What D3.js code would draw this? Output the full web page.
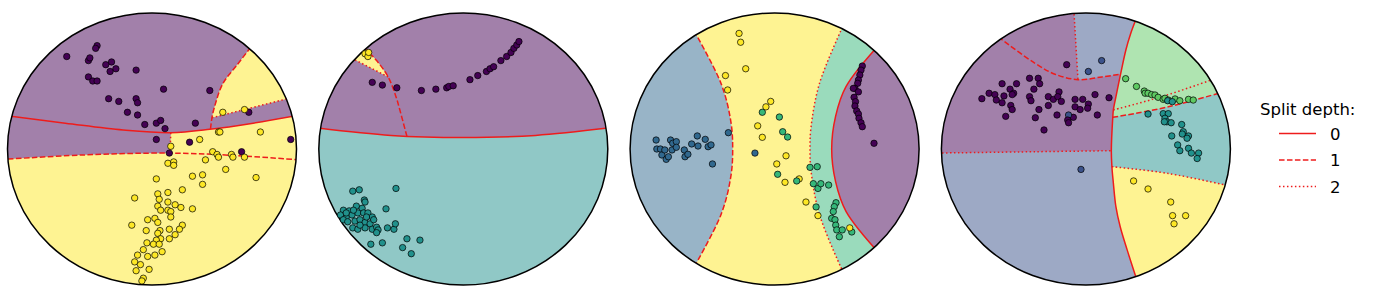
<!DOCTYPE html>
<html>
<head>
<meta charset="utf-8">
<script src="https://cdn.jsdelivr.net/npm/d3@7"></script>
<style>
  body { margin: 0; background: #fff; }
  svg { display: block; }
</style>
</head>
<body>
<div id="chart"></div>
<script>
// points are [x, y, class] in Poincare disk coordinates

var p1Points = [
  [-0.59,0.68,0],[-0.38,0.76,0],[-0.39,0.74,0],[-0.44,0.65,0],[-0.43,0.67,0],[-0.32,0.62,0],[-0.28,0.64,0],
  [-0.25,0.59,0],[-0.29,0.57,0],[-0.11,0.58,0],[-0.44,0.53,0],[-0.41,0.50,0],[-0.38,0.50,0],[0.08,0.44,0],
  [0.40,0.43,0],[-0.30,0.37,0],[-0.23,0.35,0],[-0.11,0.37,0],[-0.10,0.34,0],[-0.17,0.27,0],[-0.10,0.25,0],
  [-0.05,0.18,0],[0.03,0.19,0],[0.06,0.21,0],[0.09,0.15,0],[0.30,0.19,0],[0.67,0.27,0],[0.03,0.07,0],
  [0.26,0.05,0],[0.96,0.07,0],[0.62,-0.02,0],
  [0.49,0.27,1],[0.64,0.29,1],[0.46,0.125,1],[0.47,0.125,1],[0.75,0.125,1],[0.33,0.07,1],[0.13,0.02,1],
  [0.42,-0.02,1],[0.45,-0.04,1],[0.46,-0.06,1],[0.55,-0.04,1],[0.56,-0.06,1],[0.64,-0.06,1],[0.37,-0.08,1],
  [0.11,-0.105,1],[0.15,-0.095,1],[0.15,-0.12,1],[0.51,-0.15,1],[0.72,-0.21,1],[0.28,-0.20,1],[0.35,-0.19,1],
  [0.35,-0.26,1],[0.03,-0.22,1],[0.21,-0.30,1],[0.04,-0.33,1],[0.11,-0.32,1],[-0.12,-0.36,1],[0.05,-0.37,1],
  [0.11,-0.39,1],[0.16,-0.41,1],[0.20,-0.43,1],[0.28,-0.44,1],[0.04,-0.42,1],[0.11,-0.45,1],[0.06,-0.45,1],
  [0.13,-0.46,1],[0.13,-0.50,1],[-0.03,-0.52,1],[0.02,-0.51,1],[0.04,-0.54,1],[-0.14,-0.56,1],[0.21,-0.56,1],
  [0.19,-0.59,1],[0.12,-0.59,1],[0.055,-0.60,1],[-0.04,-0.60,1],[0.04,-0.62,1],[0.16,-0.63,1],[0.12,-0.66,1],
  [0.06,-0.66,1],[0.03,-0.67,1],[-0.035,-0.69,1],[0.01,-0.70,1],[0.05,-0.70,1],[-0.06,-0.74,1],[0.07,-0.755,1],
  [-0.10,-0.78,1],[0.02,-0.78,1],[-0.03,-0.79,1],[-0.12,-0.83,1],[-0.08,-0.85,1],[-0.02,-0.885,1],
  [-0.11,-0.895,1],[-0.06,-0.95,1],[-0.07,-0.97,1],
  [0.12,-0.03,0]
];

var p2Points = [
  [-0.63,0.49,0],[-0.56,0.47,0],[-0.46,0.45,0],[-0.29,0.43,0],[-0.19,0.44,0],[-0.115,0.45,0],[-0.10,0.46,0],
  [-0.07,0.465,0],[0.046,0.51,0],[0.10,0.54,0],[0.16,0.57,0],[0.185,0.59,0],[0.21,0.605,0],[0.26,0.65,0],
  [0.30,0.68,0],[0.33,0.71,0],[0.35,0.74,0],[0.37,0.765,0],[0.385,0.79,0],
  [-0.68,0.70,2],[-0.66,0.68,2],[-0.655,0.71,2],
  [-0.765,-0.31,1],[-0.72,-0.30,1],[-0.466,-0.29,1],[-0.685,-0.375,1],[-0.68,-0.39,1],[-0.535,-0.44,1],
  [-0.83,-0.45,1],[-0.79,-0.455,1],[-0.74,-0.42,1],[-0.70,-0.436,1],[-0.85,-0.485,1],[-0.81,-0.50,1],
  [-0.77,-0.485,1],[-0.73,-0.47,1],[-0.69,-0.47,1],[-0.66,-0.47,1],[-0.63,-0.50,1],[-0.83,-0.52,1],
  [-0.80,-0.535,1],[-0.75,-0.53,1],[-0.715,-0.52,1],[-0.68,-0.54,1],[-0.645,-0.55,1],[-0.765,-0.58,1],
  [-0.73,-0.59,1],[-0.68,-0.58,1],[-0.63,-0.59,1],[-0.60,-0.575,1],[-0.59,-0.595,1],[-0.60,-0.615,1],
  [-0.525,-0.58,1],[-0.48,-0.59,1],[-0.47,-0.55,1],[-0.64,-0.70,1],[-0.56,-0.69,1],[-0.39,-0.66,1],
  [-0.30,-0.67,1],[-0.42,-0.725,1],[-0.36,-0.77,1],[-0.81,-0.47,1],[-0.76,-0.45,1],[-0.67,-0.50,1],
  [-0.715,-0.56,1],[-0.62,-0.52,1]
];

var p3Points = [
  [-0.82,0.066,1],[-0.815,0,1],[-0.79,0,1],[-0.78,-0.044,1],[-0.75,-0.076,1],[-0.735,-0.057,1],[-0.72,0.066,1],
  [-0.705,0.042,1],[-0.71,-0.007,1],[-0.68,0.054,1],[-0.68,0.0125,1],[-0.76,-0.007,1],[-0.625,-0.007,1],
  [-0.62,-0.057,1],[-0.60,-0.039,1],[-0.574,0.037,1],[-0.535,0.096,1],[-0.53,0.022,1],[-0.48,0.071,1],
  [-0.46,0.017,1],[-0.44,0.03,1],[-0.43,-0.11,1],[-0.32,0.12,1],[-0.136,-0.03,1],
  [-0.246,0.85,3],[-0.235,0.785,3],[-0.20,0.59,3],[-0.34,0.54,3],[-0.325,0.434,3],[-0.027,0.35,3],
  [-0.06,0.31,3],[-0.117,0.17,3],[-0.085,0.086,3],[0.079,-0.05,3],[0.015,-0.11,3],[0.072,-0.245,3],
  [0.17,-0.22,3],[0.217,-0.39,3],[0.30,-0.49,3],
  [-0.085,0.27,2],[0.033,0.235,2],[0.056,0.127,2],[0.09,0.088,2],[0.021,-0.186,2],[0.153,-0.235,2],
  [0.245,-0.135,2],[0.295,-0.13,2],[0.268,-0.255,2],[0.30,-0.29,2],[0.32,-0.255,2],[0.374,-0.265,2],
  [0.287,-0.426,2],[0.425,-0.395,2],[0.413,-0.424,2],[0.406,-0.46,2],[0.395,-0.51,2],[0.418,-0.52,2],
  [0.423,-0.56,2],[0.43,-0.595,2],[0.468,-0.595,2],[0.534,-0.61,2],[0.448,-0.645,2],
  [0.52,-0.58,3],
  [0.607,0.61,0],[0.598,0.58,0],[0.59,0.544,0],[0.58,0.507,0],[0.575,0.483,0],[0.556,0.446,0],[0.545,0.446,0],
  [0.58,0.42,0],[0.55,0.38,0],[0.56,0.348,0],[0.556,0.316,0],[0.568,0.28,0],[0.58,0.257,0],[0.584,0.226,0],
  [0.598,0.193,0],[0.607,0.164,0],[0.688,0.042,0]
];

var p4Points = [
  [-0.72,0.37,0],[-0.67,0.41,0],[-0.63,0.40,0],[-0.62,0.36,0],[-0.58,0.48,0],[-0.567,0.39,0],[-0.58,0.34,0],
  [-0.525,0.44,0],[-0.50,0.41,0],[-0.48,0.48,0],[-0.51,0.40,0],[-0.52,0.32,0],[-0.51,0.29,0],[-0.555,0.24,0],
  [-0.39,0.52,0],[-0.33,0.52,0],[-0.32,0.48,0],[-0.36,0.44,0],[-0.39,0.385,0],[-0.38,0.355,0],[-0.325,0.29,0],
  [-0.35,0.23,0],[-0.29,0.14,0],[-0.26,0.385,0],[-0.26,0.32,0],[-0.225,0.365,0],[-0.186,0.42,0],
  [-0.195,0.385,0],[-0.17,0.35,0],[-0.20,0.25,0],[-0.133,0.62,0],[-0.075,0.365,0],[-0.075,0.31,0],
  [-0.04,0.29,0],[-0.022,0.365,0],[0.017,0.33,0],[0.012,0.30,0],[0.063,0.40,0],[0.079,0.25,0],[0.16,0.377,0],
  [-0.087,0.233,0],
  [0.109,0.65,1],[0.017,0.57,1],[-0.12,0.25,1],[-0.034,-0.15,1],
  [-0.126,0.213,0],[-0.12,0.193,0],
  [0.275,0.517,3],[0.35,0.46,3],[0.404,0.426,3],[0.41,0.41,3],[0.43,0.41,3],[0.455,0.40,3],[0.478,0.397,3],
  [0.50,0.38,3],[0.535,0.365,3],[0.547,0.373,3],[0.57,0.36,3],[0.617,0.368,3],[0.65,0.355,3],[0.71,0.365,3],
  [0.743,0.36,3],
  [0.43,0.257,2],[0.535,0.26,2],[0.57,0.26,2],[0.547,0.226,2],[0.56,0.20,2],[0.59,0.193,2],[0.543,0.20,2],
  [0.566,0.355,2],[0.598,0.348,2],[0.663,0.18,2],[0.674,0.127,2],[0.667,0.11,2],[0.71,0.096,2],[0.70,0.079,2],
  [0.594,0.096,2],[0.635,0.03,2],[0.65,-0.0125,2],[0.71,0.005,2],[0.73,-0.03,2],[0.78,-0.03,2],[0.77,-0.07,2],
  [0.33,-0.235,4],[0.43,-0.294,4],[0.587,-0.39,4],[0.60,-0.49,4],[0.69,-0.49,4],[0.61,-0.55,4]
];

// split lines: depth 0 solid, 1 dashed, 2 dotted
var p1Splits = [
  { depth: 0, pts: [[-1.05,0.25],[-0.6,0.19],[-0.2,0.14],[0.13,0.12],[0.4,0.145],[0.7,0.19],[1.05,0.255]] },
  { depth: 1, pts: [[-1.05,-0.078],[-0.5,-0.045],[0.125,-0.03],[0.56,-0.047],[1.05,-0.082]] },
  { depth: 1, pts: [[0.405,0.148],[0.415,0.23],[0.43,0.30],[0.49,0.48],[0.59,0.62],[0.67,0.73],[0.72,0.80]] },
  { depth: 2, pts: [[0.13,0.12],[0.125,-0.03]] },
  { depth: 2, pts: [[0.415,0.23],[1.05,0.40]] }
];
var p2Splits = [
  { depth: 0, pts: [[-1.05,0.16],[-0.5,0.10],[0,0.085],[0.5,0.10],[1.05,0.16]] },
  { depth: 1, pts: [[-0.39,0.092],[-0.44,0.29],[-0.466,0.385],[-0.52,0.53],[-0.60,0.65],[-0.70,0.76],[-0.76,0.84]] },
  { depth: 2, pts: [[-0.52,0.53],[-0.85,0.71]] }
];
var p3Splits = [
  { depth: 0, pts: [[0.744,0.79],[0.495,0.46],[0.422,0.24],[0.395,0],[0.422,-0.24],[0.495,-0.46],[0.744,-0.79]] },
  { depth: 1, pts: [[-0.585,0.92],[-0.37,0.48],[-0.3025,0.2],[-0.29,0],[-0.3025,-0.2],[-0.37,-0.48],[-0.585,-0.92]] },
  { depth: 2, pts: [[0.48,0.92],[0.31,0.48],[0.251,0.15],[0.245,0],[0.251,-0.15],[0.31,-0.48],[0.48,-0.92]] }
];
var p4Solid = [[0.364,1.0],[0.31,0.85],[0.277,0.73],[0.24,0.55],[0.203,0.36],[0.19,0.287],[0.186,0.233],
  [0.176,-0.0125],[0.18,-0.13],[0.19,-0.25],[0.207,-0.42],[0.237,-0.57],[0.285,-0.74],[0.364,-1.0]];
var p4Splits = [
  { depth: 0, pts: p4Solid },
  { depth: 1, pts: [[-0.65,0.86],[-0.594,0.814],[-0.352,0.63],[-0.214,0.55],[-0.055,0.51],[0.11,0.53],[0.24,0.55]] },
  { depth: 1, pts: [[0.186,0.233],[0.57,0.31],[1.05,0.45]] },
  { depth: 2, pts: [[-0.085,1.05],[-0.055,0.51]] },
  { depth: 2, pts: [[-1.05,-0.03],[-0.35,-0.02],[0.176,-0.0125]] },
  { depth: 2, pts: [[0.19,0.287],[0.525,0.385],[0.866,0.507],[1.0,0.56]] },
  { depth: 2, pts: [[0.18,-0.13],[0.57,-0.18],[1.05,-0.285]] }
];

// leaf regions, painted in order over the base class
var p1Regions = [
  { cls: 0, pieces: [p1Splits[0].pts, [[1.3,0.3],[1.3,1.3],[-1.3,1.3],[-1.3,0.3]]] },
  { cls: 1, pieces: [p1Splits[2].pts.slice(1), [[0.85,1.3],[1.3,1.3],[1.3,0.47],[1.05,0.40]]] },
  { cls: 0, pieces: [p1Splits[0].pts.slice(0, 4), [[0.125,-0.03]], [[0.125,-0.03],[-0.5,-0.045],[-1.05,-0.078]], [[-1.3,-0.09],[-1.3,0.27]]] }
];
var p2Regions = [
  { cls: 0, pieces: [p2Splits[0].pts, [[1.3,0.2],[1.3,1.3],[-1.3,1.3],[-1.3,0.2]]] },
  { cls: 2, pieces: [p2Splits[1].pts.slice(3), [[-0.9,1.0],[-0.85,0.71]]] }
];
var p3Regions = [
  { cls: 1, pieces: [p3Splits[1].pts, [[-1.3,-1.3],[-1.3,1.3]]] },
  { cls: 2, pieces: [p3Splits[2].pts, [[1.3,-1.3],[1.3,1.3]]] },
  { cls: 0, pieces: [p3Splits[0].pts, [[1.3,-1.3],[1.3,1.3]]] }
];
var p4Regions = [
  { cls: 0, pieces: [[[-1.3,-0.035]], p4Splits[4].pts, p4Solid.slice(0, 8).reverse(), [[0.4,1.3],[-1.3,1.3]]] },
  { cls: 1, pieces: [[[-0.099,1.3],[-0.055,0.51]], p4Splits[1].pts.slice(4), p4Solid.slice(0, 4).reverse(), [[0.4,1.3]]] },
  { cls: 2, pieces: [p4Solid, [[0.4,-1.3],[1.3,-1.3],[1.3,1.3],[0.4,1.3]]] },
  { cls: 3, pieces: [p4Solid.slice(0, 7), p4Splits[2].pts, [[1.3,0.5],[1.3,1.3],[0.4,1.3]]] },
  { cls: 4, pieces: [p4Solid.slice(8), [[0.4,-1.3],[1.3,-1.3],[1.3,-0.3]], p4Splits[6].pts.slice().reverse()] }
];

var depthLabels = ["0", "1", "2"];

var panels = [
  { points: p1Points, k: 2, base: 1, regions: p1Regions, splits: p1Splits },
  { points: p2Points, k: 3, base: 1, regions: p2Regions, splits: p2Splits },
  { points: p3Points, k: 4, base: 3, regions: p3Regions, splits: p3Splits },
  { points: p4Points, k: 5, base: 1, regions: p4Regions, splits: p4Splits }
];

var width = 1376, height = 297;
var cy = 149, rx = 144.5, ry = 136;
var firstCx = 152, stepCx = 311.3;
var dashes = ["none", "5.55,2.4", "1.5,2.475"];
var splitColor = "#ee1c1c";

var svg = d3.select("#chart").append("svg")
  .attr("width", width)
  .attr("height", height)
  .style("font-family", "'DejaVu Sans', sans-serif");

function piecesPath(pieces, x, y) {
  var curve = d3.line().x(function(d){ return x(d[0]); }).y(function(d){ return y(d[1]); })
    .curve(d3.curveCatmullRom);
  var d = "";
  pieces.forEach(function(pts) {
    if (pts.length > 2) {
      var s = curve(pts);
      d += d ? "L" + s.slice(1) : s;
    } else {
      pts.forEach(function(q) { d += (d ? "L" : "M") + x(q[0]) + "," + y(q[1]); });
    }
  });
  return d + "Z";
}

panels.forEach(function(p, i) {
  var cx = firstCx + i * stepCx;
  var x = d3.scaleLinear().domain([-1, 1]).range([cx - rx, cx + rx]);
  var y = d3.scaleLinear().domain([-1, 1]).range([cy + ry, cy - ry]);
  var color = d3.scaleSequential(d3.interpolateViridis).domain([0, p.k - 1]);
  // regions are the class colour at half strength over white
  var fill = function(c){ return d3.interpolateRgb(color(c), "#fff")(0.5); };
  var line = d3.line().x(function(d){ return x(d[0]); }).y(function(d){ return y(d[1]); })
    .curve(d3.curveCatmullRom);

  svg.append("clipPath").attr("id", "disk" + i)
    .append("ellipse")
      .attr("cx", x(0)).attr("cy", y(0))
      .attr("rx", x(1) - x(0)).attr("ry", y(-1) - y(0));

  var g = svg.append("g").attr("clip-path", "url(#disk" + i + ")");

  // base class fills the whole disk
  g.append("ellipse")
    .attr("cx", x(0)).attr("cy", y(0))
    .attr("rx", x(1) - x(0)).attr("ry", y(-1) - y(0))
    .attr("fill", fill(p.base));

  g.selectAll("path.region").data(p.regions).enter().append("path")
    .attr("class", "region")
    .attr("d", function(r){ return piecesPath(r.pieces, x, y); })
    .attr("fill", function(r){ return fill(r.cls); })
    .attr("stroke", "none");

  g.selectAll("path.split").data(p.splits).enter().append("path")
    .attr("class", "split")
    .attr("d", function(s){ return line(s.pts); })
    .attr("fill", "none")
    .attr("stroke", splitColor)
    .attr("stroke-width", 1.5)
    .attr("stroke-dasharray", function(s){ return dashes[s.depth]; });

  // disk outline
  svg.append("ellipse")
    .attr("cx", x(0)).attr("cy", y(0))
    .attr("rx", x(1) - x(0)).attr("ry", y(-1) - y(0))
    .attr("fill", "none")
    .attr("stroke", "#000")
    .attr("stroke-width", 1.5);

  svg.append("g").selectAll("circle").data(p.points).enter().append("circle")
    .attr("cx", function(d){ return x(d[0]); })
    .attr("cy", function(d){ return y(d[1]); })
    .attr("r", 3.2)
    .attr("fill", function(d){ return color(d[2]); })
    .attr("stroke", "#000")
    .attr("stroke-width", 0.7);
});

// legend
var legend = svg.append("g").attr("transform", "translate(1260,115)");
legend.append("text")
  .attr("x", 0).attr("y", 0)
  .attr("font-size", "16.5px")
  .text("Split depth:");
var item = legend.selectAll("g.item").data(depthLabels).enter().append("g")
  .attr("class", "item")
  .attr("transform", function(d, i){ return "translate(0," + (18.5 + i * 26.5) + ")"; });
item.append("line")
  .attr("x1", 19).attr("x2", 56)
  .attr("stroke", splitColor)
  .attr("stroke-width", 1.5)
  .attr("stroke-dasharray", function(d, i){ return dashes[i]; });
item.append("text")
  .attr("x", 70).attr("y", 6)
  .attr("font-size", "16.5px")
  .text(function(d){ return d; });
</script>
</body>
</html>
